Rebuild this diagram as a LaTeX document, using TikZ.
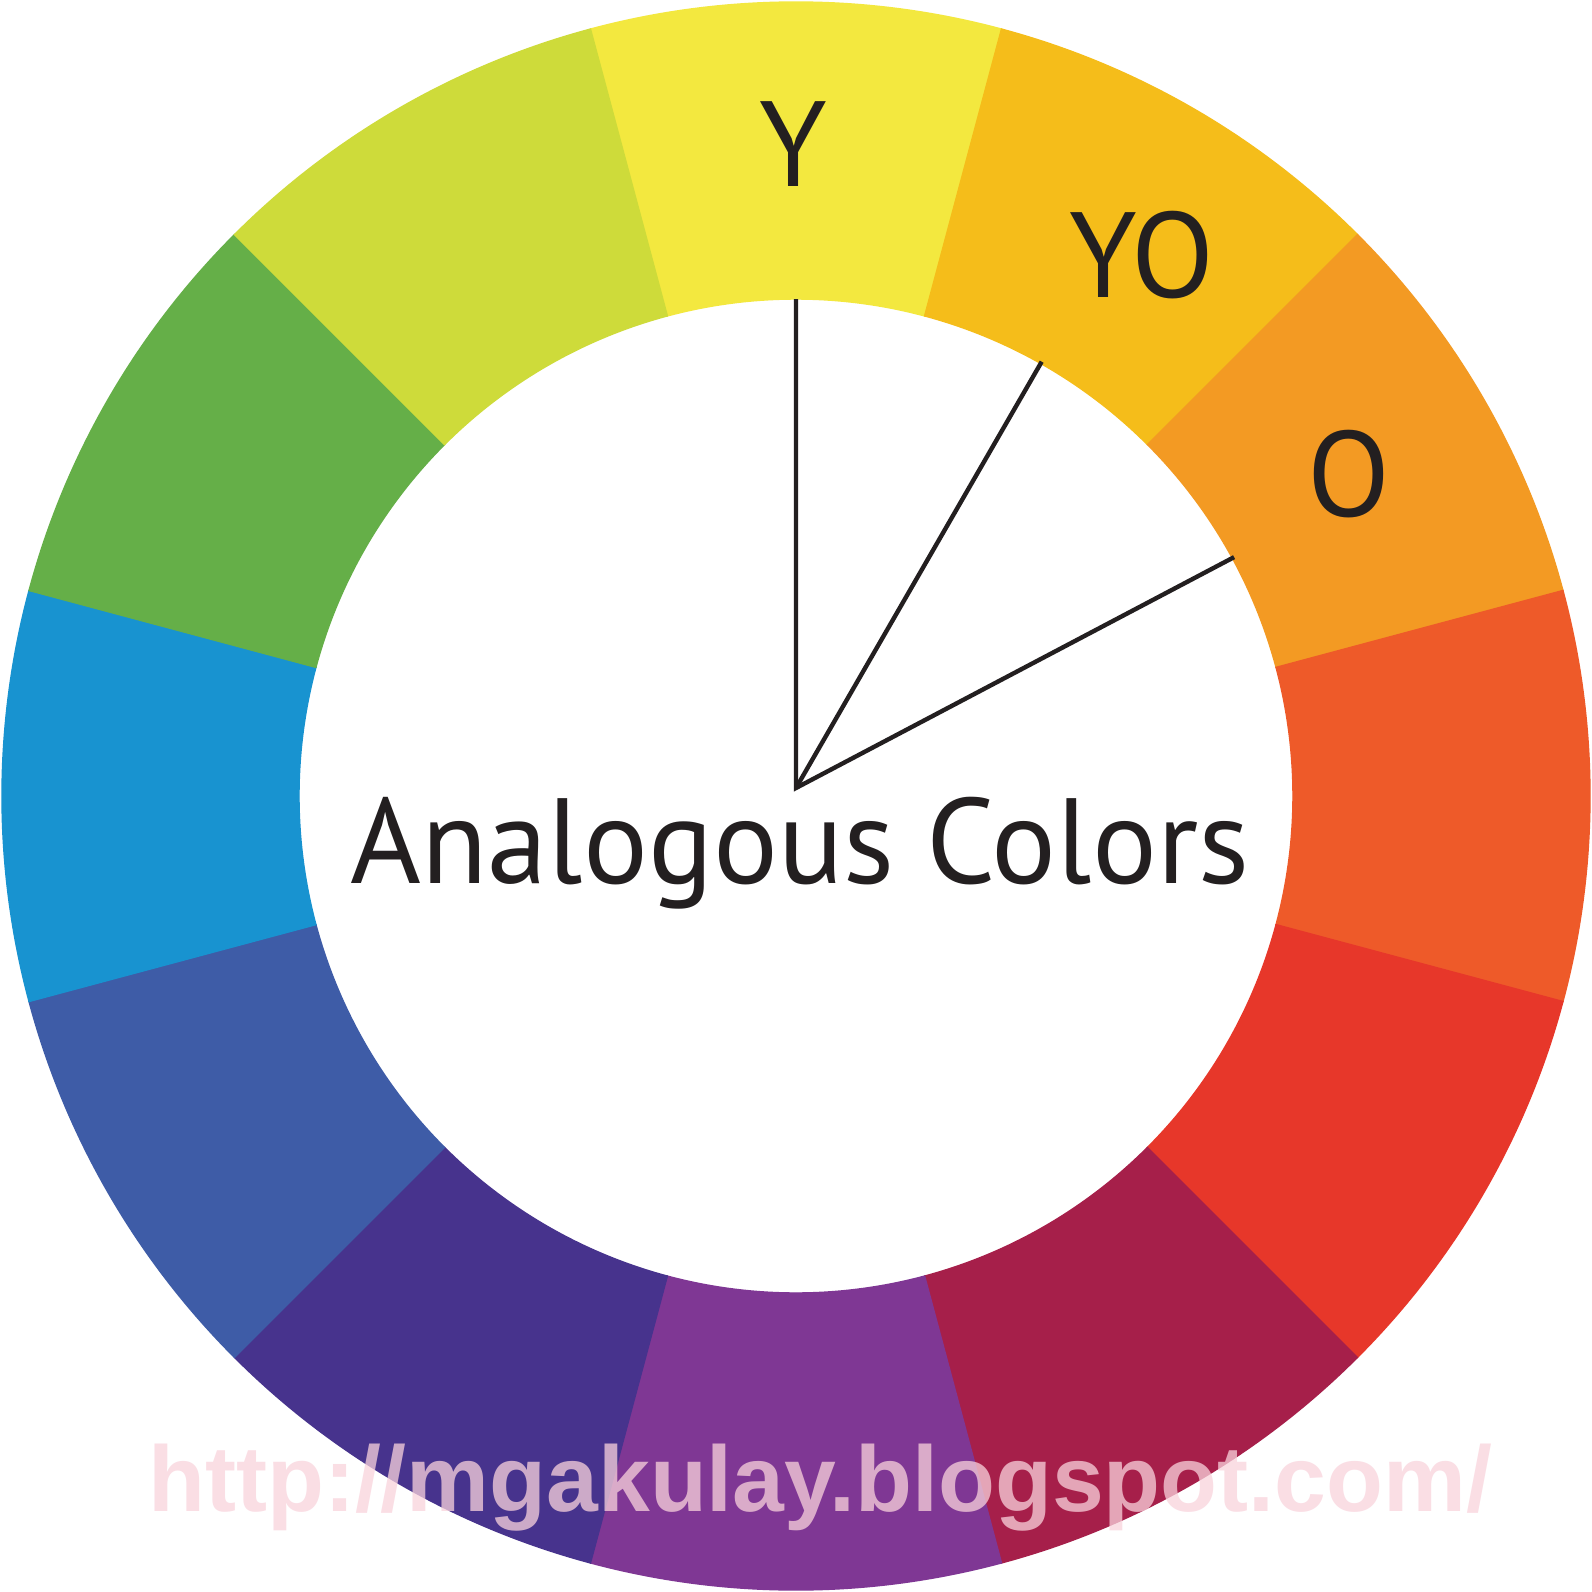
\documentclass[tikz,border=0pt]{standalone}
\usepackage{fontspec}
\setmainfont{PT Sans}
\newfontfamily\markfont{Liberation Sans}
\usetikzlibrary{positioning}
\definecolor{wheelY}{HTML}{F3E83F}
\definecolor{wheelYO}{HTML}{F5BD1A}
\definecolor{wheelO}{HTML}{F39A23}
\definecolor{wheelRO}{HTML}{EE5A29}
\definecolor{wheelR}{HTML}{E7372A}
\definecolor{wheelRV}{HTML}{A61F4A}
\definecolor{wheelV}{HTML}{7F3794}
\definecolor{wheelBV}{HTML}{47338D}
\definecolor{wheelVB}{HTML}{3E5CA7}
\definecolor{wheelB}{HTML}{1893D0}
\definecolor{wheelG}{HTML}{65AF48}
\definecolor{wheelYG}{HTML}{CEDB3A}
\definecolor{ink}{HTML}{231F20}
\definecolor{blogpink}{HTML}{F9D3DC}
\tikzset{
  segment/.style={draw=#1, fill=#1, line width=0.4pt},
  huelabel/.style={anchor=base, inner sep=0pt, text=ink, font=\fontsize{34.5}{40}\selectfont},
  spoke/.style={draw=ink, line width=1.25pt},
  watermark/.style={anchor=base, inner sep=0pt, text=blogpink, text opacity=0.75,
                    font=\markfont\bfseries\fontsize{26.5}{30}\selectfont},
}

\begin{document}
\begin{tikzpicture}
  \fill[white] (-7.96,-7.96) rectangle (7.96,7.96);
  \useasboundingbox (-7.96,-7.96) rectangle (7.96,7.96);

  % the twelve hues, Y on top
  \foreach \ang/\col in {90/wheelY, 60/wheelYO, 30/wheelO, 0/wheelRO, -30/wheelR, -60/wheelRV,
                         -90/wheelV, -120/wheelBV, -150/wheelVB, 180/wheelB, 150/wheelG, 120/wheelYG}
    \filldraw[segment=\col] (\ang-15:7.94) arc[start angle=\ang-15, end angle=\ang+15, radius=7.94]
      -- (\ang+15:4.97) arc[start angle=\ang+15, end angle=\ang-15, radius=4.97] -- cycle;

  \node[huelabel] (yellow) at (-0.03,6.10) {Y};
  \node[huelabel] (yelloworange) at (3.46,4.99) {YO};
  \node[huelabel] (orange) at (5.53,2.80) {O};

  \coordinate (hub) at (0,0.08);
  \coordinate (yEnd) at (0,4.97);
  \coordinate (yoEnd) at (60.5:4.99);
  \coordinate (oEnd) at (28.6:4.99);
  \draw[spoke] (yEnd) -- (hub) -- (oEnd);
  \draw[spoke] (hub) -- (yoEnd);

  \node[huelabel] (title) at (0.04,-0.87) {Analogous Colors};

  \node[watermark] (blog) at (0.24,-7.15) {http://mgakulay.blogspot.com/};
\end{tikzpicture}
\end{document}
